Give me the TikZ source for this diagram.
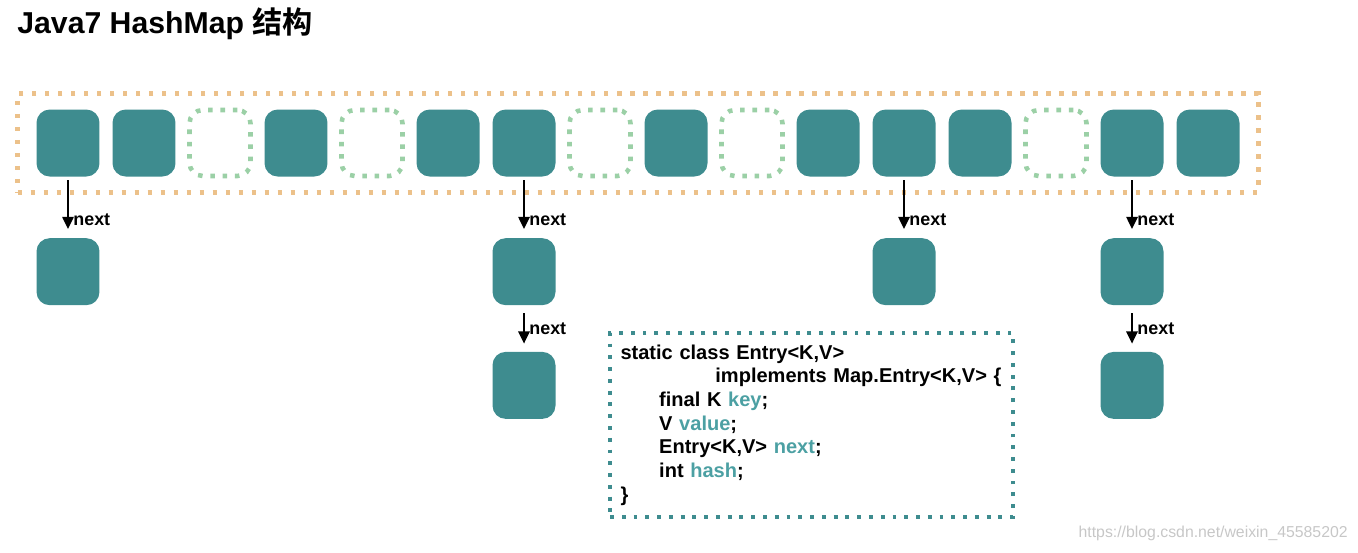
\documentclass[tikz,border=0pt]{standalone}
\usepackage{fontspec}
\setmainfont{Liberation Sans}
\newfontfamily\cjk{Noto Sans CJK SC}[BoldFont={Noto Sans CJK SC Bold}]
\usepackage{xcolor}
\usetikzlibrary{arrows.meta,positioning,fit}

\definecolor{bucketteal}{RGB}{62,140,143}
\definecolor{keyteal}{RGB}{76,160,163}
\definecolor{tableorange}{RGB}{236,193,138}
\definecolor{holegreen}{RGB}{155,208,166}

\begin{document}
\begin{tikzpicture}[x=0.02cm, y=-0.02cm,
  bucket/.style={rectangle, rounded corners=7.5pt, fill=bucketteal, minimum width=1.26cm, minimum height=1.34cm, inner sep=0pt},
  hole/.style={rectangle, rounded corners=7.5pt, draw=holegreen, line width=2.6pt, dash pattern=on 2.6pt off 4.4pt, minimum width=1.22cm, minimum height=1.32cm, inner sep=0pt},
  tablebox/.style={rectangle, draw=tableorange, line width=2.6pt, dash pattern=on 2.6pt off 4.8pt, inner xsep=0.37cm, inner ysep=0.31cm},
  entrybox/.style={rectangle, draw=bucketteal, line width=2.2pt, dash pattern=on 2.2pt off 4.5pt, text width=7.64cm, minimum height=3.68cm, inner xsep=6pt, inner ysep=0pt, align=left, font=\bfseries\fontsize{11.4}{13.5}\selectfont},
  nextarrow/.style={-{Triangle[length=7pt,width=6.5pt]}, line width=1.1pt, shorten <=2pt, shorten >=5pt},
  nextlabel/.style={right, inner sep=2.5pt, font=\bfseries\fontsize{10.2}{12}\selectfont}]
\useasboundingbox (0,0) rectangle (1358,552);

\node[anchor=base west, inner sep=0pt, font=\bfseries\fontsize{17.2}{20}\selectfont] (title) at (17,33) {Java7 HashMap {\cjk 结构}};

\foreach \k/\kind in {1/bucket,2/bucket,3/hole,4/bucket,5/hole,6/bucket,7/bucket,8/hole,9/bucket,10/hole,11/bucket,12/bucket,13/bucket,14/hole,15/bucket,16/bucket}
  \node[\kind] (c\k) at ({68+76*(\k-1)},143) {};
\node[tablebox, fit=(c1)(c16)] (table) {};

\node[bucket, below=1.22cm of c1] (n1) {};
\node[bucket, below=1.22cm of c7] (n7) {};
\node[bucket, below=1.22cm of c12] (n12) {};
\node[bucket, below=1.22cm of c15] (n15) {};
\node[bucket, below=0.92cm of n7] (m7) {};
\node[bucket, below=0.92cm of n15] (m15) {};

\foreach \k in {1,7,12,15}
  \draw[nextarrow] (c\k) -- node[nextlabel, pos=0.7] {next} (n\k);
\draw[nextarrow, shorten <=4.5pt, shorten >=4.5pt] (n7) -- node[nextlabel] {next} (m7);
\draw[nextarrow, shorten <=4.5pt, shorten >=4.5pt] (n15) -- node[nextlabel] {next} (m15);

\node[entrybox] (entry) at (811.5,425) {static class Entry<K,V>\\
\hspace*{54pt}implements Map.Entry<K,V> \{\\
\hspace*{22pt}final K \textcolor{keyteal}{key};\\
\hspace*{22pt}V \textcolor{keyteal}{value};\\
\hspace*{22pt}Entry<K,V> \textcolor{keyteal}{next};\\
\hspace*{22pt}int \textcolor{keyteal}{hash};\\
\}};

\node[anchor=east, inner sep=0pt, text=black!22, font=\fontsize{9}{10}\selectfont] (mark) at (1348,533) {https://blog.csdn.net/weixin\_45585202};
\end{tikzpicture}
\end{document}
